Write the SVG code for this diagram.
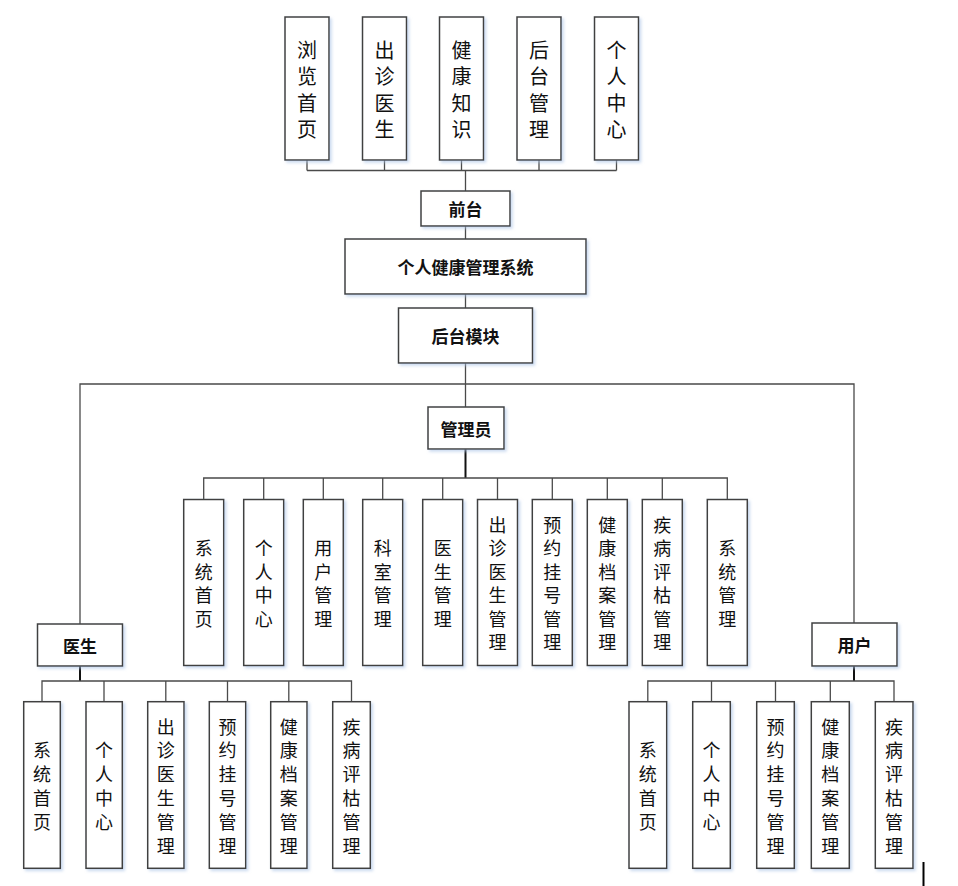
<svg xmlns="http://www.w3.org/2000/svg" width="958" height="886" viewBox="0 0 958 886">
<defs>
<filter id="sh" x="-20%" y="-20%" width="140%" height="140%">
<feDropShadow dx="2" dy="2" stdDeviation="1.5" flood-color="#a9c2e6" flood-opacity="0.6"/>
</filter>
<style>
.b{fill:#fff;stroke:#404040;stroke-width:1.5;filter:url(#sh)}
.h{font-family:"Noto Sans CJK SC",sans-serif;font-size:17px;font-weight:bold;fill:#111;text-anchor:middle;dominant-baseline:central}
.t{font-family:"Noto Sans CJK SC",sans-serif;font-size:18px;fill:#111;text-anchor:middle;dominant-baseline:central}
.tt{font-family:"Noto Sans CJK SC",sans-serif;font-size:20px;fill:#111;text-anchor:middle;dominant-baseline:central}
.c{fill:none;stroke:#4a4a4a;stroke-width:1.3}
.k{fill:none;stroke:#111;stroke-width:2}
</style>
</defs>
<rect width="958" height="886" fill="#fff"/>
<g id="connectors">
<path class="c" d="M307 160V170.5M384.5 160V170.5M461.5 160V170.5M539 160V170.5M616.5 160V170.5M307 170.5H616.5"/>
<path class="c" d="M465.5 170.5V191M465.5 226V239M465.5 294V308M465.5 363V407"/>
<path class="c" d="M80 624V384H854V623"/>
<path class="k" d="M465.5 449V478"/>
<path class="c" d="M203.7 499.5V478H727.3V499.5M263.7 478V499.5M323.3 478V499.5M382.7 478V499.5M442.7 478V499.5M497.5 478V499.5M552.3 478V499.5M607.3 478V499.5M662.3 478V499.5"/>
<path class="k" d="M80 666V681"/>
<path class="c" d="M42 701.7V681H351.5V701.7M104 681V701.7M165.8 681V701.7M227.5 681V701.7M288.8 681V701.7"/>
<path class="k" d="M854 666V681"/>
<path class="c" d="M647.8 701.7V681H894V701.7M711.5 681V701.7M775.5 681V701.7M830.3 681V701.7"/>
</g>
<g id="top-liulan"><rect class="b" x="285" y="17" width="44" height="143"/><text class="tt"><tspan x="307" y="48.7">浏</tspan><tspan x="307" y="75.2">览</tspan><tspan x="307" y="101.8">首</tspan><tspan x="307" y="128.3">页</tspan></text></g>
<g id="top-chuzhen"><rect class="b" x="362.5" y="17" width="44" height="143"/><text class="tt"><tspan x="384.5" y="48.7">出</tspan><tspan x="384.5" y="75.2">诊</tspan><tspan x="384.5" y="101.8">医</tspan><tspan x="384.5" y="128.3">生</tspan></text></g>
<g id="top-jiankang"><rect class="b" x="439.5" y="17" width="44" height="143"/><text class="tt"><tspan x="461.5" y="48.7">健</tspan><tspan x="461.5" y="75.2">康</tspan><tspan x="461.5" y="101.8">知</tspan><tspan x="461.5" y="128.3">识</tspan></text></g>
<g id="top-houtai"><rect class="b" x="517" y="17" width="44" height="143"/><text class="tt"><tspan x="539" y="48.7">后</tspan><tspan x="539" y="75.2">台</tspan><tspan x="539" y="101.8">管</tspan><tspan x="539" y="128.3">理</tspan></text></g>
<g id="top-geren"><rect class="b" x="594.5" y="17" width="44" height="143"/><text class="tt"><tspan x="616.5" y="48.7">个</tspan><tspan x="616.5" y="75.2">人</tspan><tspan x="616.5" y="101.8">中</tspan><tspan x="616.5" y="128.3">心</tspan></text></g>
<g id="qiantai"><rect class="b" x="421" y="191" width="89" height="35"/><text class="h" x="465.5" y="208.5">前台</text></g>
<g id="system"><rect class="b" x="345" y="239" width="241" height="55"/><text class="h" x="465.5" y="266.5">个人健康管理系统</text></g>
<g id="houtai"><rect class="b" x="398.5" y="308" width="134" height="55"/><text class="h" x="465.5" y="335.5">后台模块</text></g>
<g id="admin"><rect class="b" x="428" y="407" width="76" height="42"/><text class="h" x="466" y="428">管理员</text></g>
<g id="a1"><rect class="b" x="183.7" y="499.5" width="40" height="166"/><text class="t"><tspan x="203.7" y="547.3">系</tspan><tspan x="203.7" y="570.8">统</tspan><tspan x="203.7" y="594.3">首</tspan><tspan x="203.7" y="617.8">页</tspan></text></g>
<g id="a2"><rect class="b" x="243.7" y="499.5" width="40" height="166"/><text class="t"><tspan x="263.7" y="547.3">个</tspan><tspan x="263.7" y="570.8">人</tspan><tspan x="263.7" y="594.3">中</tspan><tspan x="263.7" y="617.8">心</tspan></text></g>
<g id="a3"><rect class="b" x="303.3" y="499.5" width="40" height="166"/><text class="t"><tspan x="323.3" y="547.3">用</tspan><tspan x="323.3" y="570.8">户</tspan><tspan x="323.3" y="594.3">管</tspan><tspan x="323.3" y="617.8">理</tspan></text></g>
<g id="a4"><rect class="b" x="362.7" y="499.5" width="40" height="166"/><text class="t"><tspan x="382.7" y="547.3">科</tspan><tspan x="382.7" y="570.8">室</tspan><tspan x="382.7" y="594.3">管</tspan><tspan x="382.7" y="617.8">理</tspan></text></g>
<g id="a5"><rect class="b" x="422.7" y="499.5" width="40" height="166"/><text class="t"><tspan x="442.7" y="547.3">医</tspan><tspan x="442.7" y="570.8">生</tspan><tspan x="442.7" y="594.3">管</tspan><tspan x="442.7" y="617.8">理</tspan></text></g>
<g id="a6"><rect class="b" x="477.5" y="499.5" width="40" height="166"/><text class="t"><tspan x="497.5" y="523.8">出</tspan><tspan x="497.5" y="547.3">诊</tspan><tspan x="497.5" y="570.8">医</tspan><tspan x="497.5" y="594.3">生</tspan><tspan x="497.5" y="617.8">管</tspan><tspan x="497.5" y="641.3">理</tspan></text></g>
<g id="a7"><rect class="b" x="532.3" y="499.5" width="40" height="166"/><text class="t"><tspan x="552.3" y="523.8">预</tspan><tspan x="552.3" y="547.3">约</tspan><tspan x="552.3" y="570.8">挂</tspan><tspan x="552.3" y="594.3">号</tspan><tspan x="552.3" y="617.8">管</tspan><tspan x="552.3" y="641.3">理</tspan></text></g>
<g id="a8"><rect class="b" x="587.3" y="499.5" width="40" height="166"/><text class="t"><tspan x="607.3" y="523.8">健</tspan><tspan x="607.3" y="547.3">康</tspan><tspan x="607.3" y="570.8">档</tspan><tspan x="607.3" y="594.3">案</tspan><tspan x="607.3" y="617.8">管</tspan><tspan x="607.3" y="641.3">理</tspan></text></g>
<g id="a9"><rect class="b" x="642.3" y="499.5" width="40" height="166"/><text class="t"><tspan x="662.3" y="523.8">疾</tspan><tspan x="662.3" y="547.3">病</tspan><tspan x="662.3" y="570.8">评</tspan><tspan x="662.3" y="594.3">枯</tspan><tspan x="662.3" y="617.8">管</tspan><tspan x="662.3" y="641.3">理</tspan></text></g>
<g id="a10"><rect class="b" x="707.3" y="499.5" width="40" height="166"/><text class="t"><tspan x="727.3" y="547.3">系</tspan><tspan x="727.3" y="570.8">统</tspan><tspan x="727.3" y="594.3">管</tspan><tspan x="727.3" y="617.8">理</tspan></text></g>
<g id="doctor"><rect class="b" x="37.5" y="624" width="85" height="42"/><text class="h" x="80" y="645">医生</text></g>
<g id="user"><rect class="b" x="812" y="623" width="85" height="43"/><text class="h" x="854.5" y="644.5">用户</text></g>
<g id="d1"><rect class="b" x="23.7" y="701.7" width="36.6" height="166.6"/><text class="t"><tspan x="42" y="749.3">系</tspan><tspan x="42" y="773.1">统</tspan><tspan x="42" y="796.9">首</tspan><tspan x="42" y="820.7">页</tspan></text></g>
<g id="d2"><rect class="b" x="86" y="701.7" width="36.3" height="166.6"/><text class="t"><tspan x="104" y="749.3">个</tspan><tspan x="104" y="773.1">人</tspan><tspan x="104" y="796.9">中</tspan><tspan x="104" y="820.7">心</tspan></text></g>
<g id="d3"><rect class="b" x="147.7" y="701.7" width="36.3" height="166.6"/><text class="t"><tspan x="165.8" y="725.5">出</tspan><tspan x="165.8" y="749.3">诊</tspan><tspan x="165.8" y="773.1">医</tspan><tspan x="165.8" y="796.9">生</tspan><tspan x="165.8" y="820.7">管</tspan><tspan x="165.8" y="844.5">理</tspan></text></g>
<g id="d4"><rect class="b" x="209.3" y="701.7" width="36.4" height="166.6"/><text class="t"><tspan x="227.5" y="725.5">预</tspan><tspan x="227.5" y="749.3">约</tspan><tspan x="227.5" y="773.1">挂</tspan><tspan x="227.5" y="796.9">号</tspan><tspan x="227.5" y="820.7">管</tspan><tspan x="227.5" y="844.5">理</tspan></text></g>
<g id="d5"><rect class="b" x="270.7" y="701.7" width="36.3" height="166.6"/><text class="t"><tspan x="288.8" y="725.5">健</tspan><tspan x="288.8" y="749.3">康</tspan><tspan x="288.8" y="773.1">档</tspan><tspan x="288.8" y="796.9">案</tspan><tspan x="288.8" y="820.7">管</tspan><tspan x="288.8" y="844.5">理</tspan></text></g>
<g id="d6"><rect class="b" x="332.7" y="701.7" width="37.6" height="166.6"/><text class="t"><tspan x="351.5" y="725.5">疾</tspan><tspan x="351.5" y="749.3">病</tspan><tspan x="351.5" y="773.1">评</tspan><tspan x="351.5" y="796.9">枯</tspan><tspan x="351.5" y="820.7">管</tspan><tspan x="351.5" y="844.5">理</tspan></text></g>
<g id="u1"><rect class="b" x="629" y="701.7" width="37.7" height="166.6"/><text class="t"><tspan x="647.8" y="749.3">系</tspan><tspan x="647.8" y="773.1">统</tspan><tspan x="647.8" y="796.9">首</tspan><tspan x="647.8" y="820.7">页</tspan></text></g>
<g id="u2"><rect class="b" x="692.7" y="701.7" width="37.6" height="166.6"/><text class="t"><tspan x="711.5" y="749.3">个</tspan><tspan x="711.5" y="773.1">人</tspan><tspan x="711.5" y="796.9">中</tspan><tspan x="711.5" y="820.7">心</tspan></text></g>
<g id="u3"><rect class="b" x="756.7" y="701.7" width="37.6" height="166.6"/><text class="t"><tspan x="775.5" y="725.5">预</tspan><tspan x="775.5" y="749.3">约</tspan><tspan x="775.5" y="773.1">挂</tspan><tspan x="775.5" y="796.9">号</tspan><tspan x="775.5" y="820.7">管</tspan><tspan x="775.5" y="844.5">理</tspan></text></g>
<g id="u4"><rect class="b" x="811.3" y="701.7" width="38" height="166.6"/><text class="t"><tspan x="830.3" y="725.5">健</tspan><tspan x="830.3" y="749.3">康</tspan><tspan x="830.3" y="773.1">档</tspan><tspan x="830.3" y="796.9">案</tspan><tspan x="830.3" y="820.7">管</tspan><tspan x="830.3" y="844.5">理</tspan></text></g>
<g id="u5"><rect class="b" x="875.3" y="701.7" width="37.7" height="166.6"/><text class="t"><tspan x="894" y="725.5">疾</tspan><tspan x="894" y="749.3">病</tspan><tspan x="894" y="773.1">评</tspan><tspan x="894" y="796.9">枯</tspan><tspan x="894" y="820.7">管</tspan><tspan x="894" y="844.5">理</tspan></text></g>
<line x1="923.5" y1="862" x2="923.5" y2="886" stroke="#000" stroke-width="2"/>
</svg>
